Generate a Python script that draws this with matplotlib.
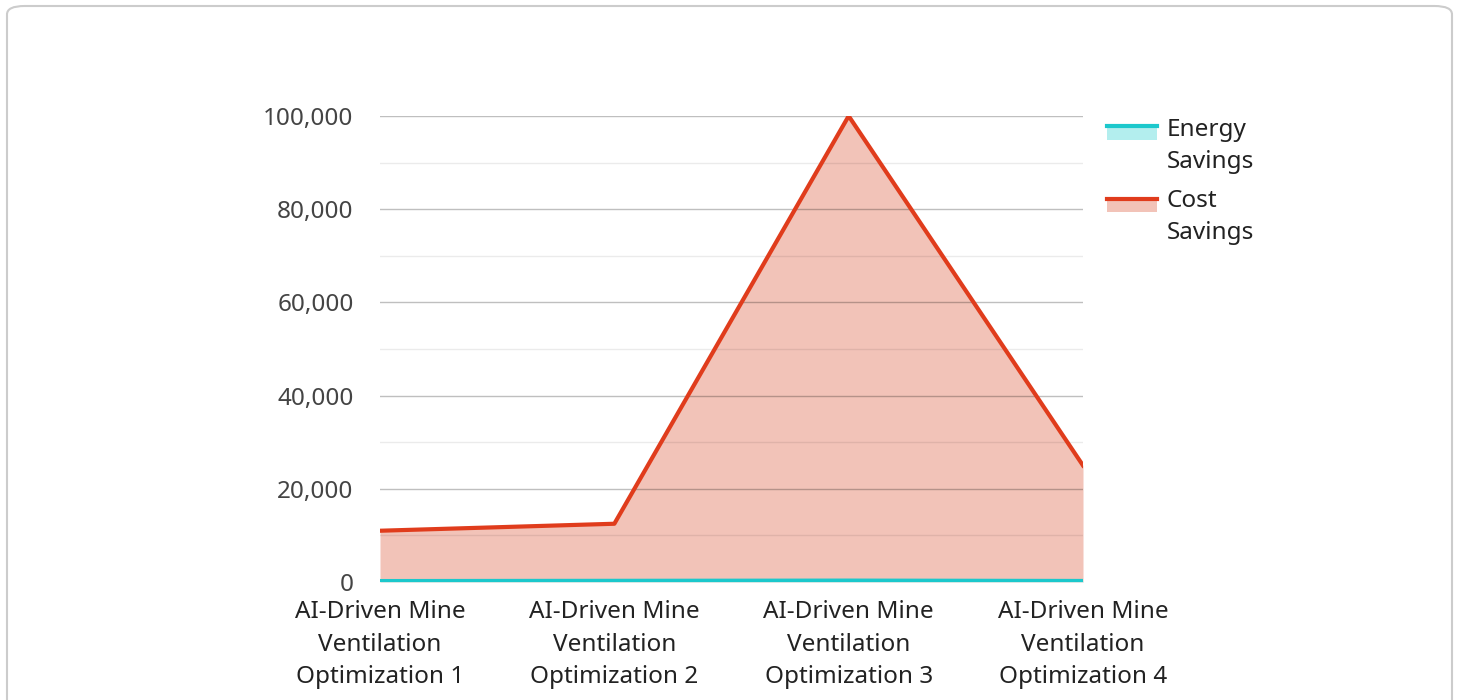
import matplotlib.pyplot as plt
from matplotlib.patches import FancyBboxPatch, Rectangle
from matplotlib.lines import Line2D
import numpy as np

plt.rcParams['font.family'] = ['Noto Sans', 'DejaVu Sans']

categories = ['AI-Driven Mine\nVentilation\nOptimization 1', 'AI-Driven Mine\nVentilation\nOptimization 2',
              'AI-Driven Mine\nVentilation\nOptimization 3', 'AI-Driven Mine\nVentilation\nOptimization 4']
energy_savings = [200, 250, 300, 220]
cost_savings = [11000, 12500, 100000, 25000]
series_names = ['Energy\nSavings', 'Cost\nSavings']

W, H = 1458, 700
fig = plt.figure(figsize=(W / 100, H / 100), dpi=100)

# card border
card = FancyBboxPatch((7 / W, -20 / H), (1445 / W), (714 / H),
                      boxstyle='round,pad=0,rounding_size=0.012',
                      transform=fig.transFigure, facecolor='white',
                      edgecolor='#cccccc', linewidth=1.5, zorder=-10)
fig.add_artist(card)

ax = fig.add_axes([380 / W, 1 - 582 / H, (1083 - 380) / W, (582 - 116) / H])
ax.set_facecolor('none')
x = np.arange(len(categories))

cost_col = '#e03c1c'
cost_fill = '#f2c3b8'
energy_col = '#1cc8cc'
energy_fill = '#b3eeee'

ax.fill_between(x, 0, cost_savings, color=cost_fill, lw=0, zorder=1)
ax.plot(x, cost_savings, color=cost_col, lw=3, zorder=4)
ax.fill_between(x, 0, energy_savings, color=energy_fill, lw=0, zorder=2)
ax.plot(x, energy_savings, color=energy_col, lw=3, zorder=5)

ax.set_xlim(0, 3)
ax.set_ylim(0, 100000)
ax.set_yticks(np.arange(0, 100001, 20000))
ax.set_yticks(np.arange(10000, 100000, 20000), minor=True)
ax.set_yticklabels([f'{v:,}' for v in range(0, 100001, 20000)])
ax.grid(axis='y', which='major', color='black', alpha=0.25, lw=1, zorder=3)
ax.grid(axis='y', which='minor', color='black', alpha=0.08, lw=1, zorder=3)
ax.set_axisbelow(False)
ax.set_xticks(x)
ax.set_xticklabels(categories, fontsize=17.5, color='#222222', linespacing=1.48)
ax.tick_params(axis='x', length=0, pad=13)
ax.tick_params(axis='y', which='both', length=0, labelsize=17.5, labelcolor='#444444', pad=19)
for s in ax.spines.values():
    s.set_visible(False)

# legend
leg_items = [(126, 140, energy_col, energy_fill, 128), (199, 212, cost_col, cost_fill, 199)]
for (ly, lb, lc, fc, ty), name in zip(leg_items, series_names):
    fig.add_artist(Rectangle((1107 / W, 1 - lb / H), 50 / W, (lb - ly) / H,
                             transform=fig.transFigure, facecolor=fc, edgecolor='none'))
    fig.add_artist(Line2D([1107 / W, 1157 / W], [1 - ly / H, 1 - ly / H],
                          transform=fig.transFigure, color=lc, lw=3))
    fig.text(1167 / W, 1 - (ty - 10) / H, name, fontsize=17.5, color='#222222',
             va='top', ha='left', linespacing=1.44)

fig.savefig('out.png', dpi=100)
